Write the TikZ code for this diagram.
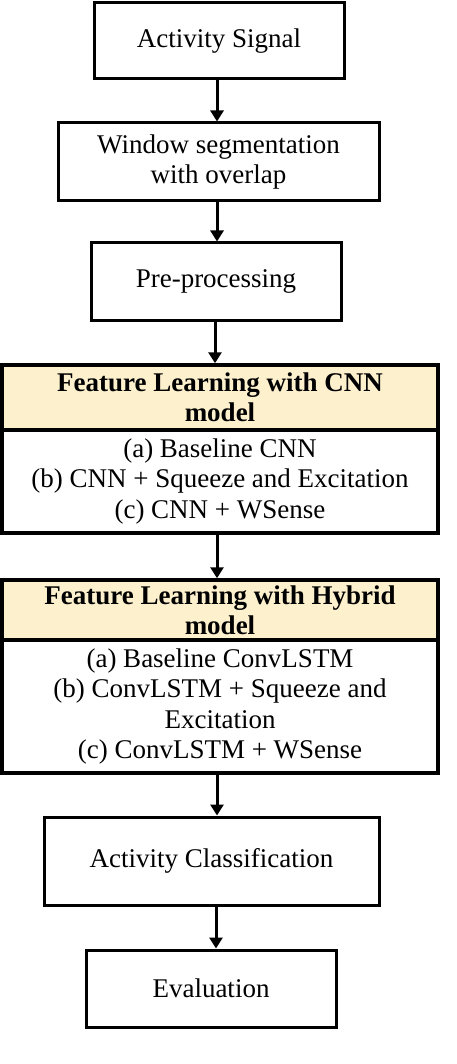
\documentclass[tikz,border=0pt]{standalone}
\usepackage{fontspec}
\setmainfont{Liberation Serif}
\usetikzlibrary{arrows.meta}
\definecolor{hdr}{RGB}{253,240,205}
\begin{document}
\begin{tikzpicture}[x=1pt,y=-1pt,
  box/.style={draw, line width=3pt, rectangle, align=center, inner sep=0pt, font=\fontsize{27}{30.5}\selectfont},
  hbox/.style={draw, line width=3.5pt, fill=hdr, rectangle, align=center, inner sep=0pt, font=\fontsize{27}{30}\selectfont\bfseries},
  arr/.style={line width=3pt, -{Triangle[length=11pt,width=13pt]}}]
\useasboundingbox (0,0) rectangle (456,1064);
\node[box, minimum width=250pt, minimum height=76pt] (sig) at (219,41) {Activity Signal};
\node[box, minimum width=321pt, minimum height=78pt] (win) at (218.5,162) {Window segmentation\\with overlap};
\node[box, minimum width=250pt, minimum height=77pt] (pre) at (216,281.5) {Pre-processing};
\node[hbox, minimum width=436pt, minimum height=65pt] (cnnh) at (220,397.5) {Feature Learning with CNN\\model};
\node[box, line width=3.5pt, minimum width=436pt, minimum height=103pt] (cnnb) at (220,481.5) {(a) Baseline CNN\\(b) CNN + Squeeze and Excitation\\(c) CNN + WSense};
\node[hbox, minimum width=436pt, minimum height=60pt] (hybh) at (220,610) {Feature Learning with Hybrid\\model};
\node[box, line width=3.5pt, minimum width=436pt, minimum height=133pt] (hybb) at (220,706.5) {(a) Baseline ConvLSTM\\(b) ConvLSTM + Squeeze and\\Excitation\\(c) ConvLSTM + WSense};
\node[box, minimum width=335pt, minimum height=88pt] (cls) at (211.5,861) {Activity Classification};
\node[box, minimum width=250pt, minimum height=77pt] (eval) at (211,988.5) {Evaluation};
\draw[arr] (sig.south -| 217,0) -- (win.north -| 217,0);
\draw[arr] (win.south -| 217,0) -- (pre.north -| 217,0);
\draw[arr] (pre.south -| 215,0) -- (cnnh.north -| 215,0);
\draw[arr] (cnnb.south -| 217,0) -- (hybh.north -| 217,0);
\draw[arr] (hybb.south -| 217,0) -- (cls.north -| 217,0);
\draw[arr] (cls.south -| 216,0) -- (eval.north -| 216,0);
\end{tikzpicture}
\end{document}
